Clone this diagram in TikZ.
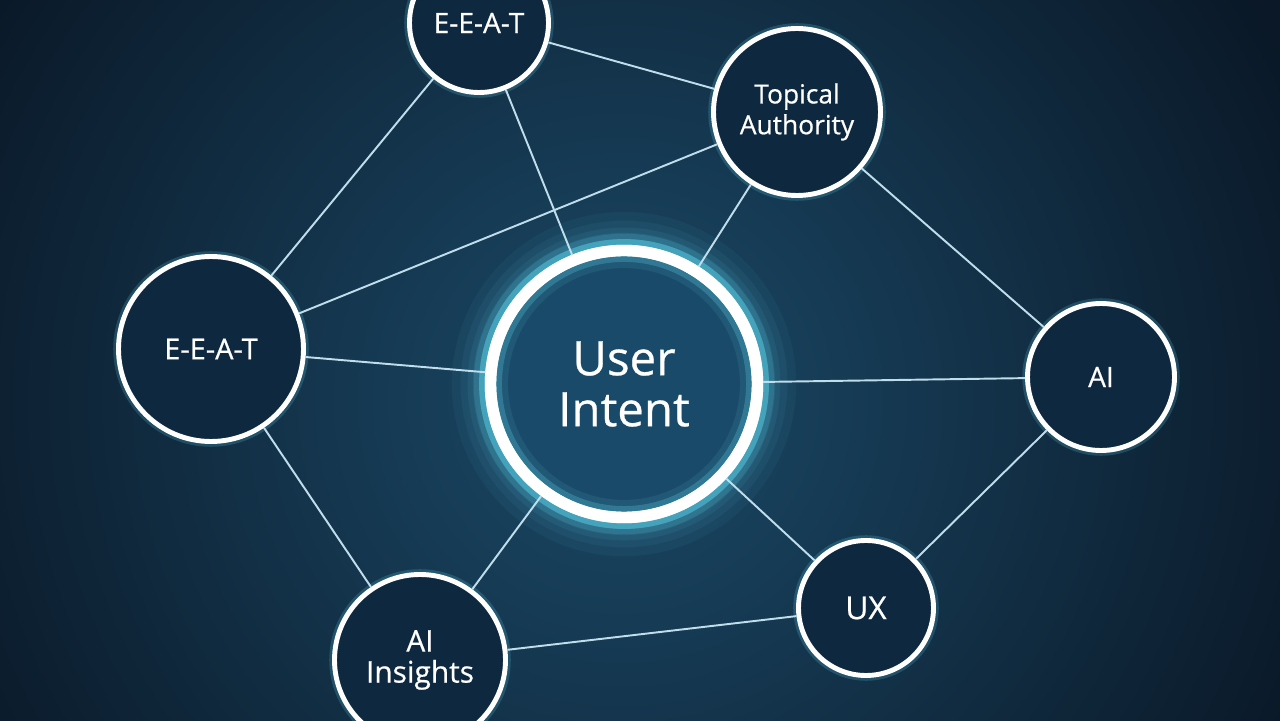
\documentclass[tikz,border=0pt]{standalone}
\usepackage{fontspec}
\setmainfont{Open Sans}[FakeBold=0.6]
\usetikzlibrary{positioning}

\definecolor{bgdark}{HTML}{0A1827}
\definecolor{bgglow}{HTML}{1B4A68}
\definecolor{nodefill}{HTML}{0E2840}
\definecolor{hubfill}{HTML}{1A4A69}
\definecolor{glowcyan}{HTML}{5FD8F0}
\definecolor{linkcol}{HTML}{BFDDEB}

\tikzset{
  topic/.style={circle, draw=white, line width=2.8pt, fill=nodefill, text=white, align=center, inner sep=0pt,
    preaction={draw=glowcyan, line width=6pt, opacity=0.2}},
  hub/.style={circle, draw=white, line width=6.5pt, fill=hubfill, text=white, align=center, inner sep=0pt,
    preaction={draw=glowcyan, line width=44pt, opacity=0.05},
    preaction={draw=glowcyan, line width=34pt, opacity=0.06},
    preaction={draw=glowcyan, line width=26pt, opacity=0.08},
    preaction={draw=glowcyan, line width=19pt, opacity=0.12},
    preaction={draw=glowcyan, line width=13pt, opacity=0.3},
    postaction={draw=glowcyan, line width=20pt, opacity=0.1},
    postaction={draw=glowcyan, line width=13pt, opacity=0.25},
    postaction={draw=white, line width=6.5pt}},
  link/.style={draw=linkcol, line width=1.1pt},
}

\begin{document}
\begin{tikzpicture}
  \useasboundingbox (0,0) rectangle (25.6,14.4);
  \begin{scope}
    \clip (0,0) rectangle (25.6,14.4);
    \fill[bgdark] (0,0) rectangle (25.6,14.4);
    \shade[inner color=bgglow, outer color=bgdark] (12.4,6.4) circle (15cm);
  \end{scope}

  \node[hub, minimum size=5.34cm, font=\fontsize{27}{29}\selectfont] (intent) at (12.48,6.72) {User\\Intent};
  \node[topic, minimum size=2.78cm, font=\fontsize{16}{18}\selectfont] (eeattop) at (9.58,13.94) {E-E-A-T};
  \node[topic, minimum size=3.34cm, font=\fontsize{15}{17.5}\selectfont] (topical) at (15.94,12.16) {Topical\\Authority};
  \node[topic, minimum size=3.70cm, font=\fontsize{16.5}{18}\selectfont] (eeatleft) at (4.22,7.42) {E-E-A-T};
  \node[topic, minimum size=2.94cm, font=\fontsize{16}{18}\selectfont] (ai) at (22.02,6.86) {AI};
  \node[topic, minimum size=2.70cm, font=\fontsize{18}{20}\selectfont] (ux) at (17.32,2.24) {UX};
  \node[topic, minimum size=3.42cm, font=\fontsize{17}{17.6}\selectfont] (insights) at (8.40,1.20) {AI\\Insights};

  %top E-E-A-T
  \draw[link] (eeattop) -- (topical);
  \draw[link] (eeattop) -- (eeatleft);
  \draw[link] (eeattop) -- (intent);

  %topical authority
  \draw[link] (topical) -- (eeatleft);
  \draw[link] (topical) -- (intent);
  \draw[link] (topical) -- (ai);

  %to the hub
  \draw[link] (eeatleft) -- (intent);
  \draw[link] (intent) -- (ai);
  \draw[link] (intent) -- (insights);
  \draw[link] (intent) -- (ux);

  %lower ring
  \draw[link] (eeatleft) -- (insights);
  \draw[link] (ai) -- (ux);
  \draw[link] (insights) -- (ux);
\end{tikzpicture}
\end{document}
